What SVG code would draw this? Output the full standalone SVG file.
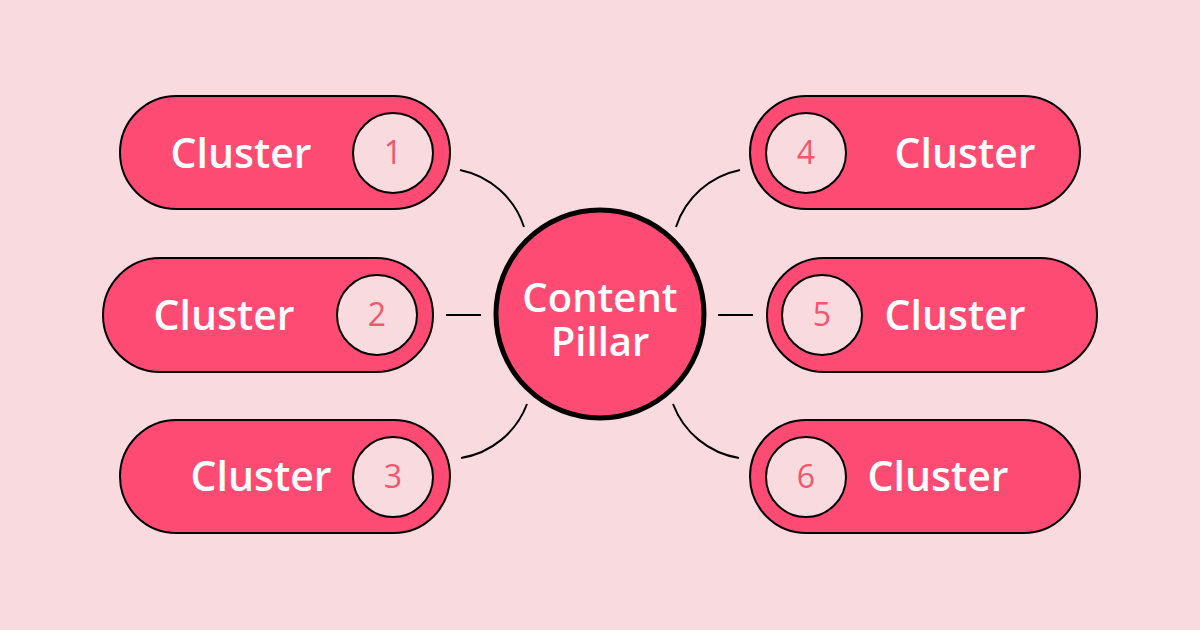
<svg xmlns="http://www.w3.org/2000/svg" width="1200" height="630" viewBox="0 0 1200 630">
<style>
.pill{fill:#FE4B73;stroke:#000;stroke-width:2}
.num{fill:#F8DADF;stroke:#000;stroke-width:2}
.lbl{font-family:"Open Sans","Liberation Sans",sans-serif;font-weight:600;font-size:41px;fill:#fff;text-anchor:middle}
.cp{font-family:"Open Sans","Liberation Sans",sans-serif;font-weight:600;font-size:40px;fill:#fff;text-anchor:middle}
.n{font-family:"Open Sans","Liberation Sans",sans-serif;font-weight:400;font-size:32px;fill:#F2566F;text-anchor:middle}
.con{fill:none;stroke:#000;stroke-width:2}
</style>
<rect width="1200" height="630" fill="#F8DADF"/>
<g id="connectors">
<path class="con" d="M460,170 A85,85 0 0 1 524,227"/>
<path class="con" d="M740,170 A85,85 0 0 0 676,227"/>
<path class="con" d="M527,404 A85,85 0 0 1 461,458"/>
<path class="con" d="M673,404 A85,85 0 0 0 739,458"/>
<line class="con" x1="446" y1="315" x2="481" y2="315"/>
<line class="con" x1="718" y1="315" x2="753" y2="315"/>
</g>
<g id="pillar">
<circle cx="600" cy="314" r="104" fill="#FE4B73" stroke="#000" stroke-width="5"/>
<text class="cp" x="600" y="312"><tspan x="600" y="312">Content</tspan><tspan x="600" y="356">Pillar</tspan></text>
</g>
<g id="cluster1">
<rect class="pill" x="120" y="96" width="330" height="113" rx="56.5"/>
<circle class="num" cx="393" cy="153" r="40"/>
<text class="lbl" x="241" y="168">Cluster</text>
<text class="n" x="393" y="164">1</text>
</g>
<g id="cluster2">
<rect class="pill" x="103" y="258" width="330" height="114" rx="57"/>
<circle class="num" cx="377" cy="315" r="40"/>
<text class="lbl" x="224" y="330">Cluster</text>
<text class="n" x="377" y="326">2</text>
</g>
<g id="cluster3">
<rect class="pill" x="120" y="420" width="330" height="113" rx="56.5"/>
<circle class="num" cx="393" cy="477" r="40"/>
<text class="lbl" x="261" y="491">Cluster</text>
<text class="n" x="393" y="488">3</text>
</g>
<g id="cluster4">
<rect class="pill" x="750" y="96" width="330" height="113" rx="56.5"/>
<circle class="num" cx="806" cy="153" r="40"/>
<text class="lbl" x="965" y="168">Cluster</text>
<text class="n" x="806" y="164">4</text>
</g>
<g id="cluster5">
<rect class="pill" x="767" y="258" width="330" height="114" rx="57"/>
<circle class="num" cx="822" cy="315" r="40"/>
<text class="lbl" x="955" y="330">Cluster</text>
<text class="n" x="822" y="326">5</text>
</g>
<g id="cluster6">
<rect class="pill" x="750" y="420" width="330" height="113" rx="56.5"/>
<circle class="num" cx="806" cy="477" r="40"/>
<text class="lbl" x="938" y="491">Cluster</text>
<text class="n" x="806" y="488">6</text>
</g>
</svg>
